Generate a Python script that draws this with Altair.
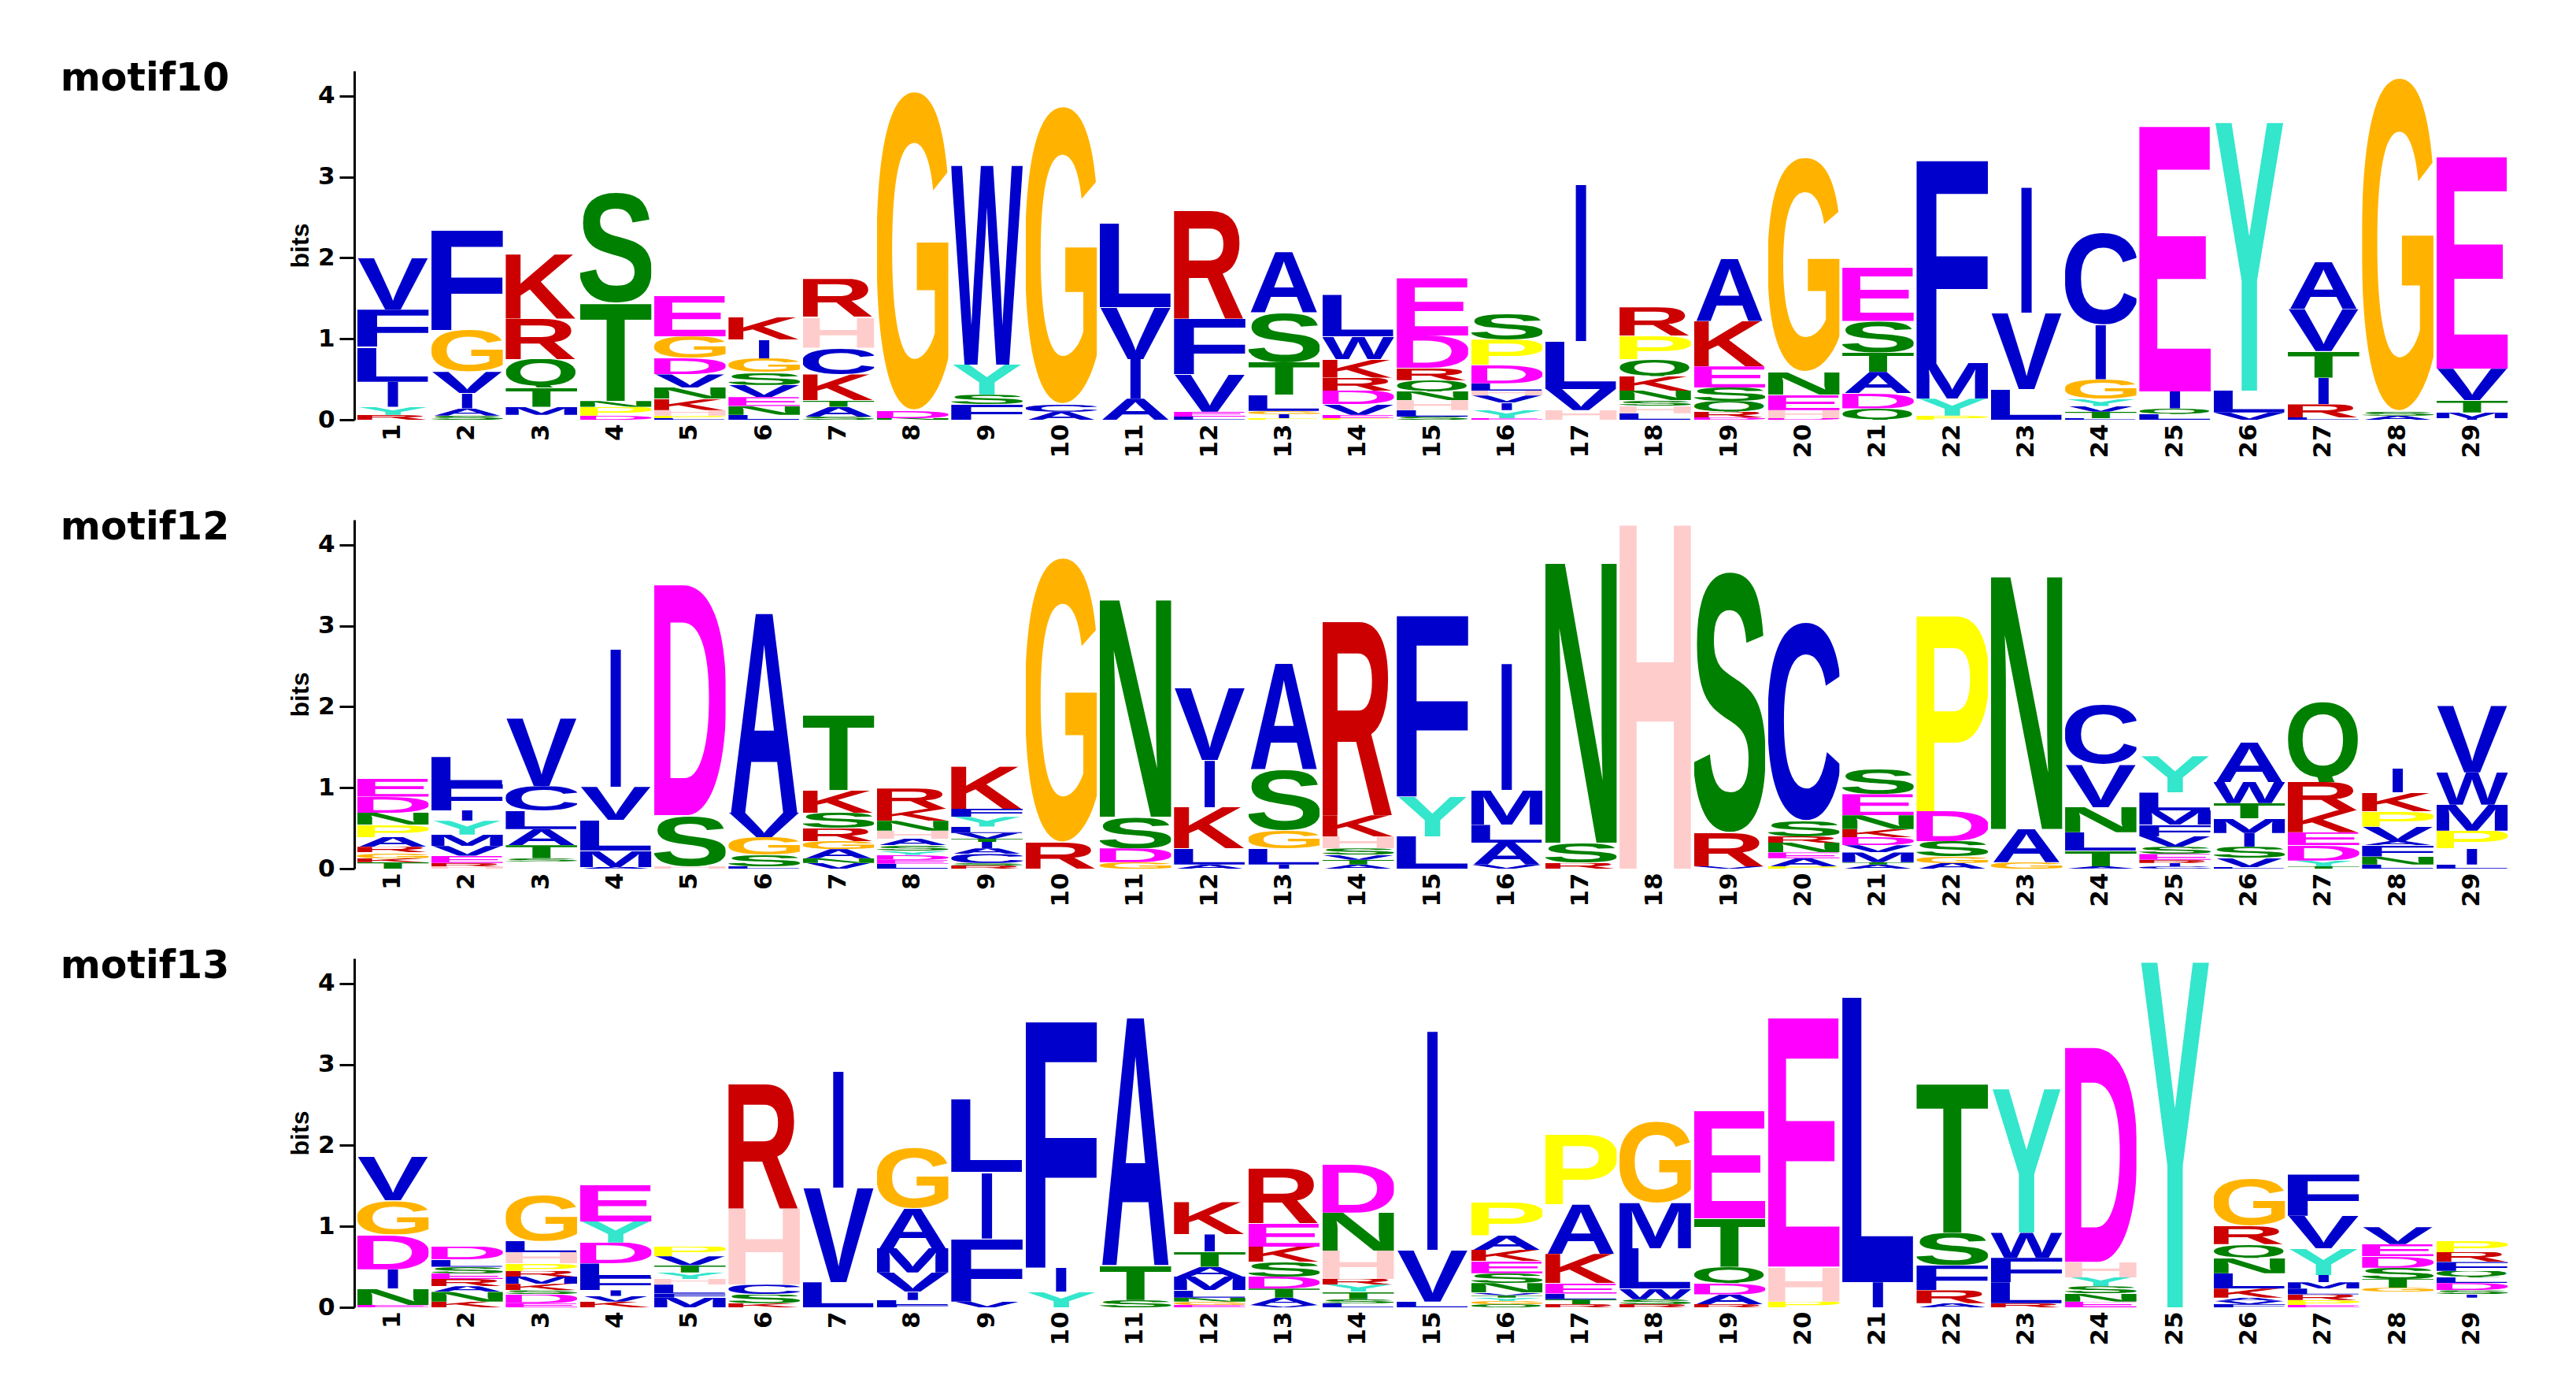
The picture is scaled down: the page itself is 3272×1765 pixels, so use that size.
import base64
import altair as alt
import pandas as pd

# ---------------- data ----------------
motif_names = ["motif10", "motif12", "motif13"]
positions = list(range(1, 30))
bit_ticks = [0, 1, 2, 3, 4]

# letters of each column, bottom -> top ("-" = empty space in the stack)
motif10_letters = [
    "RYILFV", "SAIVGF", "-MTQRK", "DPNTS", "LPHKNVDGE", "LNEVSGIK", "SATKCHR", "NDG",
    "FSYW", "ACG", "AIVL", "LEVFR", "PIGLTSA", "PEVDRKWL", "SLHNQRDE", "EYIVHLDPS",
    "HVLI", "LHSNKQPR", "DRQSEKA", "DHENG", "QDATSE", "PYMF", "LVI", "LTVYGIC",
    "LQIE", "VLY", "LRITVA", "ASG", "IMTVE",
]
motif10_bits = [
    [.06, .10, .31, .43, .46, .64], [.05, .09, .19, .26, .52, 1.24], [.06, .10, .24, .35, .50, .80],
    [.05, .11, .07, 1.21, 1.38], [.02, .03, .07, .14, .14, .16, .20, .27, .50],
    [.06, .11, .11, .15, .16, .17, .23, .28], [.04, .12, .08, .32, .33, .38, .47], [.02, .09, 3.99],
    [.19, .12, .37, 2.48], [.10, .09, 3.72], [.26, .49, .64, 1.04], [.04, .06, .46, .69, 1.34],
    [.02, .05, .04, .20, .40, .61, .75], [.02, .04, .13, .17, .16, .23, .28, .52],
    [.04, .08, .12, .11, .14, .15, .40, .71], [.02, .10, .09, .09, .06, .09, .23, .31, .33],
    [.12, .26, .59, 1.95], [.08, .09, .07, .12, .18, .21, .29, .35], [.03, .07, .13, .17, .26, .56, .78],
    [.02, .10, .19, .28, 2.68], [.14, .19, .26, .24, .39, .66], [.05, .21, .44, 2.52], [.38, .94, 1.56],
    [.02, .08, .07, .09, .24, .68, 1.15], [.07, .07, .21, 3.30], [.09, .27, 3.34],
    [.03, .16, .33, .33, .52, .58], [.05, .05, 4.17], [.02, .07, .15, .39, 2.64],
]

motif12_letters = [
    "TKGRAPNDE", "HREVMYIFL", "-STALCV", "AMLVI", "HSD", "LSGVA", "VNAGRSKT", "LEDYSAHNKR",
    "RSCAITVLYFK", "RG", "GDSN", "ALKIV", "ILGSA", "ATVSHKR", "LYF", "VALMI", "RSN", "H",
    "VRS", "PAENRSC", "ATMVDKNES", "AGSDP", "GAN", "ATLNVC", "CIRESVFMLY", "LVSIMTWA",
    "TYDEKRQ", "LNFAVPKI", "LIPMWV",
]
motif12_bits = [
    [.08, .05, .07, .07, .12, .15, .15, .20, .22], [.03, .04, .09, .12, .14, .17, .13, .32, .34],
    [.09, .04, .16, .20, .22, .31, .84], [.02, .20, .38, .41, 1.71], [.03, .63, 2.87],
    [.03, .14, .22, .30, 2.48], [.07, .06, .11, .10, .16, .19, .28, .93],
    [.06, .05, .06, .05, .07, .08, .10, .12, .15, .25],
    [.04, .03, .11, .07, .08, .04, .07, .08, .12, .10, .52], [.32, 3.56], [.08, .17, .39, 2.70],
    [.05, .20, .51, .58, .89], [.05, .20, .22, .76, 1.32], [.05, .06, .06, .08, .15, .26, 2.41],
    [.40, .49, 2.25], [.05, .27, .22, .43, 1.57], [.07, .25, 3.48], [4.28], [.03, .41, 3.26],
    [.03, .10, .07, .12, .08, .19, 2.48], [.05, .03, .12, .09, .10, .10, .17, .26, .31],
    [.07, .08, .19, .37, 2.43], [.08, .41, 3.14], [.03, .19, .23, .31, .53, .74],
    [.03, .04, .04, .07, .09, .13, .14, .18, .22, .45], [.02, .11, .14, .17, .18, .19, .26, .49],
    [.03, .07, .19, .16, .27, .35, 1.01], [.05, .10, .14, .05, .18, .19, .23, .30],
    [.05, .20, .22, .32, .40, .83],
]

motif13_letters = [
    "ENIDGV", "KNARESLD", "EDSKMRPHLG", "KVIFLDYE", "MFLHYTVP", "KSCHR", "LVI", "FLIVMAG",
    "VFIL", "YIF", "STA", "EGNLMATIK", "VATDSKER", "LSTYRHND", "LVI", "QGYTVNSEKAP",
    "RTLEKAP", "RSWLMG", "RADQTE", "PHE", "IL", "ARFST", "RLFWY", "ENSYHD", "Y",
    "FVAKLNQRG", "EPRLMIYVF", "-GTSDEV", "-ISDLQFRP",
]
motif13_bits = [
    [.03, .20, .24, .43, .42, .54], [.07, .12, .07, .09, .07, .08, .09, .16],
    [.05, .11, .05, .08, .09, .07, .09, .14, .14, .57], [.07, .07, .07, .16, .17, .26, .26, .45],
    [.12, .05, .11, .07, .08, .09, .11, .12], [.05, .11, .12, .94, 1.56], [.31, 1.17, 1.44],
    [.03, .06, .10, .24, .30, .49, .76], [.07, .78, .82, .90], [.19, .30, 3.06], [.09, .43, 3.08],
    [.03, .04, .05, .09, .17, .12, .19, .21, .40], [.03, .09, .11, .15, .18, .19, .29, .68],
    [.05, .05, .09, .09, .07, .35, .47, .60], [.07, .64, 2.72],
    [.04, .04, .04, .03, .03, .12, .12, .15, .14, .18, .41], [.04, .06, .07, .13, .36, .61, .87],
    [.04, .06, .13, .50, .56, 1.01], [.04, .12, .14, .20, .60, 1.33], [.07, .43, 3.10], [.31, 3.55],
    [.05, .16, .31, .40, 1.85], [.05, .26, .30, .31, 1.79], [.07, .10, .09, .11, .19, 2.67], [4.30],
    [.04, .04, .04, .11, .19, .19, .17, .23, .59], [.03, .06, .07, .07, .08, .09, .33, .40, .52],
    [.19, .05, .11, .14, .14, .15, .21], [.12, .04, .05, .09, .07, .08, .11, .12, .14],
]

# ---------------- styling: amino-acid colours and glyph boxes ----------------
BLUE, GREEN, RED, MAG = "#0000CC", "#008000", "#CC0000", "#FF00FF"
aa_colors = {
    "A": BLUE, "C": BLUE, "F": BLUE, "I": BLUE, "L": BLUE, "M": BLUE, "V": BLUE, "W": BLUE,
    "N": GREEN, "Q": GREEN, "S": GREEN, "T": GREEN,
    "D": MAG, "E": MAG, "K": RED, "R": RED,
    "G": "#FFB300", "H": "#FFCCCC", "P": "#FFFF00", "Y": "#33E6CC",
}
# horizontal ink extent of each bold glyph (font-size 100 units)
ink_x = {
    "A": (0, 72.2), "C": (4.5, 68), "D": (7.5, 67.5), "E": (7.5, 61.5), "F": (7.5, 56.5),
    "G": (4.5, 71), "H": (7.4, 64.8), "K": (7.6, 72.5), "L": (7.5, 58.5), "M": (7, 76.3),
    "N": (7.4, 64.8), "P": (7.5, 62.5), "Q": (4, 75), "R": (7.6, 72), "S": (3.5, 62.5),
    "T": (2, 59), "V": (0, 66.7), "W": (0.5, 94), "Y": (0, 66.7),
}
ROUND = set("CGOQS")


def glyph_url(letter):
    color = aa_colors[letter]
    if letter in ROUND:
        top, bottom = 70.8, (5.5 if letter == "Q" else 1.3)
    else:
        top, bottom = 69.5, 0.0
    if letter == "I":
        x0, w = 0.0, 100.0
        text = '<text x="50" y="0" text-anchor="middle"'
    else:
        x0, x1 = ink_x[letter]
        w = x1 - x0
        text = '<text x="0" y="0"'
    h = top + bottom
    svg = (
        f'<svg xmlns="http://www.w3.org/2000/svg" width="{w:.1f}" height="{h:.1f}" '
        f'viewBox="{x0:.1f} {-top:.1f} {w:.1f} {h:.1f}" preserveAspectRatio="none">'
        f'{text} font-family="Liberation Sans, Arial, Helvetica, sans-serif" '
        f'font-weight="bold" font-size="100" fill="{color}">{letter}</text></svg>'
    )
    return "data:image/svg+xml;base64," + base64.b64encode(svg.encode()).decode()


glyphs = pd.DataFrame({"letter": list(aa_colors), "url": [glyph_url(k) for k in aa_colors]})


def stack_frame(letters, bits):
    rows = []
    for pos, col, hs in zip(positions, letters, bits):
        base = 0.0
        for letter, h in zip(col, hs):
            rows.append({"pos": pos, "letter": letter, "y0": base, "y1": base + h})
            base += h
    return pd.DataFrame(rows)


LABEL_FONT = "DejaVu Sans"
TITLE_FONT = "Liberation Sans"


def panel(name, letters, bits):
    logo = (
        alt.Chart(stack_frame(letters, bits))
        .transform_filter(alt.datum.letter != "-")
        .transform_lookup(lookup="letter", from_=alt.LookupData(glyphs, "letter", ["url"]))
        .mark_image(aspect=False)
        .encode(
            x=alt.X(
                "pos:O",
                scale=alt.Scale(paddingInner=0.04, paddingOuter=0.04),
                axis=alt.Axis(title=None, labelAngle=-90, domain=False, ticks=False,
                              labelPadding=5, labelFontSize=31),
            ),
            y=alt.Y(
                "y0:Q",
                scale=alt.Scale(domain=[0, 4.31], nice=False),
                axis=alt.Axis(title="bits", values=bit_ticks, format="d", grid=False,
                              tickSize=19, tickWidth=3, domainWidth=3, labelPadding=6,
                              labelFontSize=31, titleFontSize=32, titlePadding=5),
            ),
            y2="y1:Q",
            url="url:N",
        )
    )
    label = (
        alt.Chart(pd.DataFrame({"name": [name]}))
        .mark_text(align="center", baseline="alphabetic", font=LABEL_FONT, fontWeight="bold",
                   fontSize=49, color="black")
        .encode(text="name:N", x=alt.value(-266), y=alt.value(25))
    )
    return alt.layer(logo, label).properties(width=2739, height=443)


p10 = panel(motif_names[0], motif10_letters, motif10_bits)
p12 = panel(motif_names[1], motif12_letters, motif12_bits)
p13 = panel(motif_names[2], motif13_letters, motif13_bits)

chart = (
    alt.vconcat(alt.vconcat(p10, p12, spacing=64), p13, spacing=51)
    .properties(padding={"left": 68, "top": 68, "right": 10, "bottom": 10})
    .configure_view(strokeWidth=0)
    .configure_axis(labelFont=LABEL_FONT, labelFontWeight="bold", labelColor="black",
                    titleFont=TITLE_FONT, titleFontWeight="bold", titleColor="black",
                    domainColor="black", tickColor="black")
)

chart.save("out.html", embed_options={"renderer": "svg", "actions": False})
